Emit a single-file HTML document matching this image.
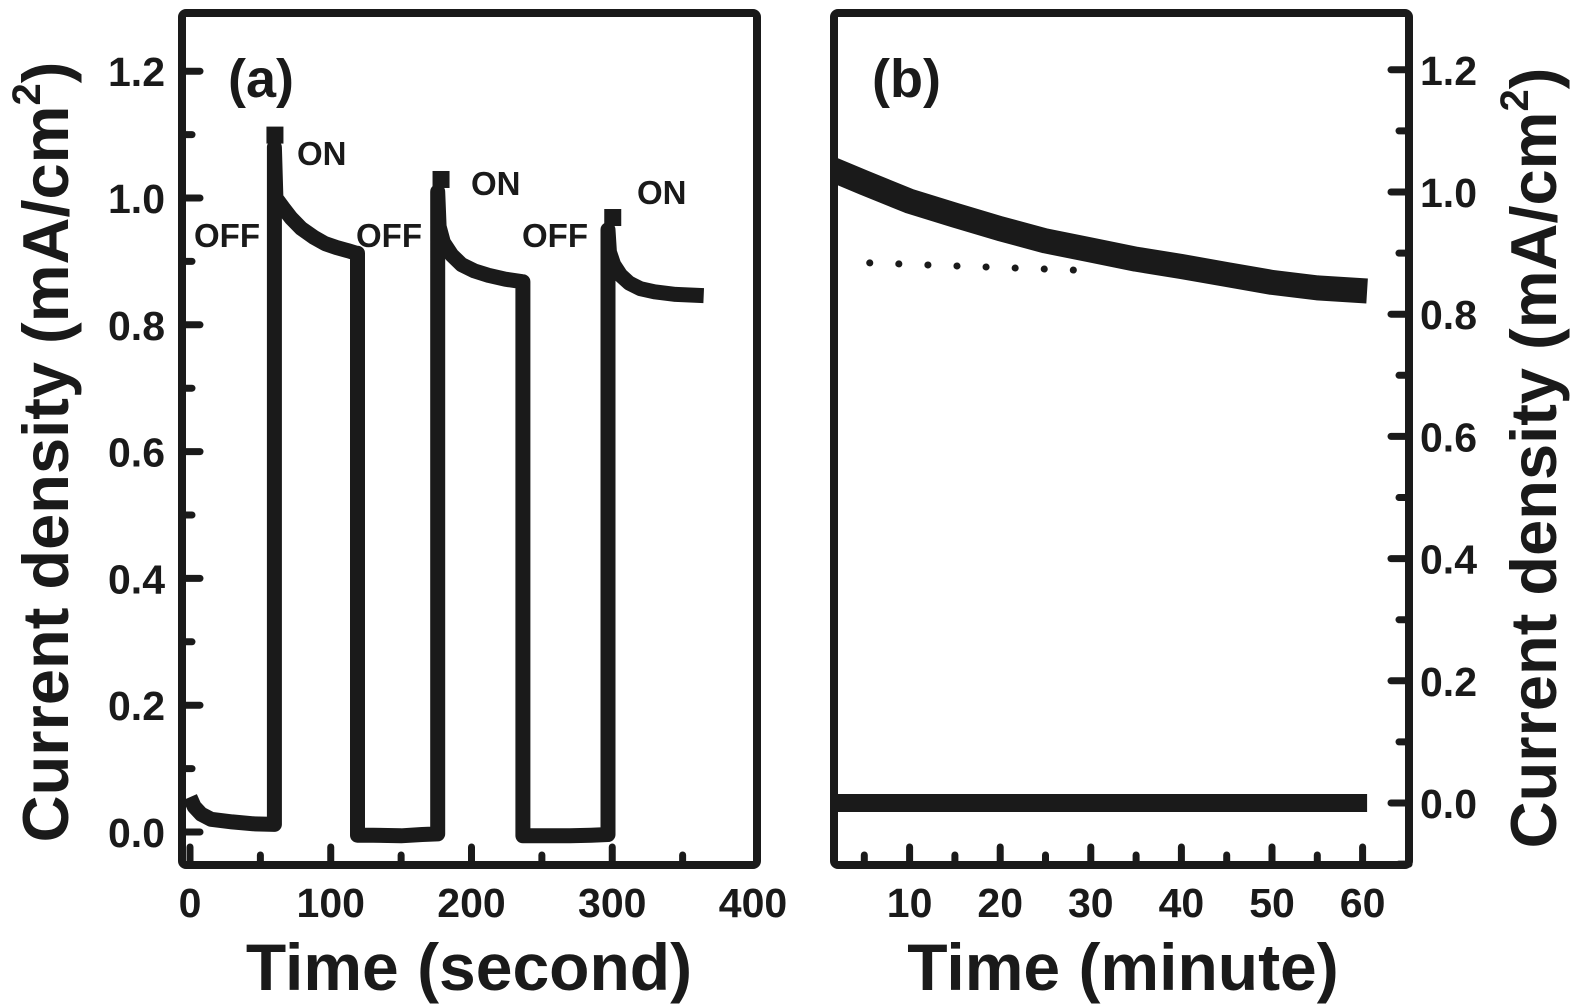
<!DOCTYPE html>
<html>
<head>
<meta charset="utf-8">
<style>
  html,body{margin:0;padding:0;background:#fff;}
  svg{display:block;}
  text{font-family:"Liberation Sans",Arial,sans-serif;font-weight:bold;fill:#1a1a1a;}
</style>
</head>
<body>
<svg id="chart" width="1570" height="1006" viewBox="0 0 1570 1006" xmlns="http://www.w3.org/2000/svg">
  <defs>
    <clipPath id="clipB"><rect x="838" y="17" width="567" height="844"/></clipPath>
  </defs>
  <g id="panelA"></g>
  <g id="panelB"></g>
</svg>
<script>
// ---------- Panel (a) data ----------
const aTime = [0, 3, 8, 15, 30, 45, 60, 60, 61, 66, 72, 79, 88, 96, 104, 112, 118, 119, 119, 130, 150, 165, 176, 176, 177, 180, 186, 193, 202, 212, 224, 236, 236.5, 236.5, 250, 270, 285, 297, 297, 298, 301, 306, 312, 320, 330, 345, 365];
const aCurrent = [0.055, 0.04, 0.028, 0.02, 0.016, 0.013, 0.012, 1.08, 1.0, 0.985, 0.968, 0.952, 0.938, 0.928, 0.922, 0.917, 0.913, 0.913, -0.005, -0.005, -0.006, -0.004, -0.003, 1.01, 0.955, 0.93, 0.91, 0.895, 0.885, 0.878, 0.872, 0.868, 0.868, -0.006, -0.006, -0.006, -0.005, -0.004, 0.95, 0.915, 0.895, 0.878, 0.866, 0.857, 0.852, 0.848, 0.846];
const aSpikeTimes = [60, 178, 300];
const aSpikeValues = [1.10, 1.03, 0.97];
const aYTicks = ["0.0","0.2","0.4","0.6","0.8","1.0","1.2"];
const aXTicks = ["0","100","200","300","400"];
// ---------- Panel (b) data ----------
const bTime = [1.0, 5, 10, 15, 20, 25, 30, 35, 40, 45, 50, 55, 60.5];
const bCurrent = [1.04, 1.015, 0.985, 0.962, 0.94, 0.92, 0.905, 0.89, 0.878, 0.865, 0.852, 0.843, 0.838];
const bDarkTime = [1.7, 60.5];
const bDarkCurrent = [0.0, 0.0];
const bDotTime = [5.6, 30.4];
const bDotCurrent = [0.884, 0.871];
const bYTicks = ["0.0","0.2","0.4","0.6","0.8","1.0","1.2"];
const bXTicks = ["10","20","30","40","50","60"];

const NS = "http://www.w3.org/2000/svg";
function mk(tag, attrs, parent){const e=document.createElementNS(NS,tag);for(const k in attrs)e.setAttribute(k,attrs[k]);parent.appendChild(e);return e;}

const axA = {x: t => 190 + t*1.4075, y: v => 832 - v*634};
const axB = {x: t => 819 + t*9.06, y: v => 803 - v*611};

const pA = document.getElementById('panelA');
const pB = document.getElementById('panelB');

// ---------- Panel A ----------
let fa = mk('rect',{x:182,y:13,width:575,height:852,rx:4,fill:'none',stroke:'#1a1a1a','stroke-width':8},pA);


for(let i=0;i<=12;i++){
  const v=i*0.1, y=axA.y(v), len=(i%2===0)?18:10;
  const t=mk('line',{x1:182,y1:y,x2:182+len,y2:y,stroke:'#1a1a1a','stroke-width':7,'stroke-linecap':'round'},pA);
  
  
}
aYTicks.forEach((lab,i)=>{
  const tx=mk('text',{x:165,y:axA.y(parseFloat(lab))+15,'font-size':41,'text-anchor':'end'},pA);
  tx.textContent=lab;
  
  
});
for(let i=0;i<=8;i++){
  const x=axA.x(i*50), len=(i%2===0)?18:10;
  if(i===8) continue;
  const t=mk('line',{x1:x,y1:865,x2:x,y2:865-len,stroke:'#1a1a1a','stroke-width':7,'stroke-linecap':'round'},pA);
  
  
}
aXTicks.forEach(lab=>{
  const tx=mk('text',{x:axA.x(parseFloat(lab)),y:917,'font-size':41,'text-anchor':'middle'},pA);
  tx.textContent=lab;
  
  
});
let dA='';
aTime.forEach((t,i)=>{dA+=(i?'L':'M')+axA.x(t).toFixed(1)+' '+axA.y(aCurrent[i]).toFixed(1)+' ';});
const sA=mk('path',{d:dA,fill:'none',stroke:'#1a1a1a','stroke-width':15,'stroke-linejoin':'round','stroke-linecap':'butt'},pA);


aSpikeTimes.forEach((t,i)=>{
  const x=axA.x(t), y=axA.y(aSpikeValues[i]);
  const r=mk('rect',{x:x-8,y:y-8,width:17,height:17,fill:'#1a1a1a'},pA);
  
  
});
function lbl(parent,txt,x,y,size,name,anchor){
  const t=mk('text',{x:x,y:y,'font-size':size,'text-anchor':anchor||'start'},parent);
  t.textContent=txt;
  
  
  return t;
}
lbl(pA,'(a)',228,97,54,'panel-a-label');
lbl(pA,'ON',297,165,33,'on-label-1');
lbl(pA,'ON',471,195,33,'on-label-2');
lbl(pA,'ON',637,204,33,'on-label-3');
lbl(pA,'OFF',194,247,33,'off-label-1');
lbl(pA,'OFF',356,247,33,'off-label-2');
lbl(pA,'OFF',522,247,33,'off-label-3');
lbl(pA,'Time (second)',469,990,66,'x-axis-title-a','middle');
const ylA=mk('text',{x:0,y:0,'font-size':65,'text-anchor':'middle',transform:'translate(68,452) rotate(-90)'},pA);
ylA.innerHTML='Current density (mA/cm<tspan font-size="40" dy="-28">2</tspan><tspan dy="28">)</tspan>';



// ---------- Panel B ----------
let fb = mk('rect',{x:834,y:13,width:575,height:852,rx:4,fill:'none',stroke:'#1a1a1a','stroke-width':8},pB);


for(let i=-1;i<=12;i++){
  const v=i*0.1, y=axB.y(v), len=(i%2===0)?18:10;
  const t=mk('line',{x1:1409,y1:y,x2:1409-len,y2:y,stroke:'#1a1a1a','stroke-width':7,'stroke-linecap':'round'},pB);
  
  
}
bYTicks.forEach(lab=>{
  const tx=mk('text',{x:1420,y:axB.y(parseFloat(lab))+15,'font-size':41,'text-anchor':'start'},pB);
  tx.textContent=lab;
  
  
});
for(let i=1;i<=12;i++){
  const x=axB.x(i*5), len=(i%2===0)?18:10;
  const t=mk('line',{x1:x,y1:865,x2:x,y2:865-len,stroke:'#1a1a1a','stroke-width':7,'stroke-linecap':'round'},pB);
  
  
}
bXTicks.forEach(lab=>{
  const tx=mk('text',{x:axB.x(parseFloat(lab)),y:917,'font-size':41,'text-anchor':'middle'},pB);
  tx.textContent=lab;
  
  
});
const gB=mk('g',{'clip-path':'url(#clipB)'},pB);


let dB='';
bTime.forEach((t,i)=>{dB+=(i?'L':'M')+axB.x(t).toFixed(1)+' '+axB.y(bCurrent[i]).toFixed(1)+' ';});
const sB=mk('path',{d:dB,fill:'none',stroke:'#1a1a1a','stroke-width':25,'stroke-linejoin':'round'},gB);


let dD='';
bDarkTime.forEach((t,i)=>{dD+=(i?'L':'M')+axB.x(t).toFixed(1)+' '+axB.y(bDarkCurrent[i]).toFixed(1)+' ';});
const sD=mk('path',{d:dD,fill:'none',stroke:'#1a1a1a','stroke-width':18},gB);


let dT='';
bDotTime.forEach((t,i)=>{dT+=(i?'L':'M')+axB.x(t).toFixed(1)+' '+axB.y(bDotCurrent[i]).toFixed(1)+' ';});
const sT=mk('path',{d:dT,fill:'none',stroke:'#1a1a1a','stroke-width':7,'stroke-linecap':'round','stroke-dasharray':'0.1 29'},gB);


lbl(pB,'(b)',872,97,54,'panel-b-label');
lbl(pB,'Time (minute)',1123,990,66,'x-axis-title-b','middle');
const ylB=mk('text',{x:0,y:0,'font-size':65,'text-anchor':'middle',transform:'translate(1556,458) rotate(-90)'},pB);
ylB.innerHTML='Current density (mA/cm<tspan font-size="40" dy="-28">2</tspan><tspan dy="28">)</tspan>';


</script>
</body>
</html>
